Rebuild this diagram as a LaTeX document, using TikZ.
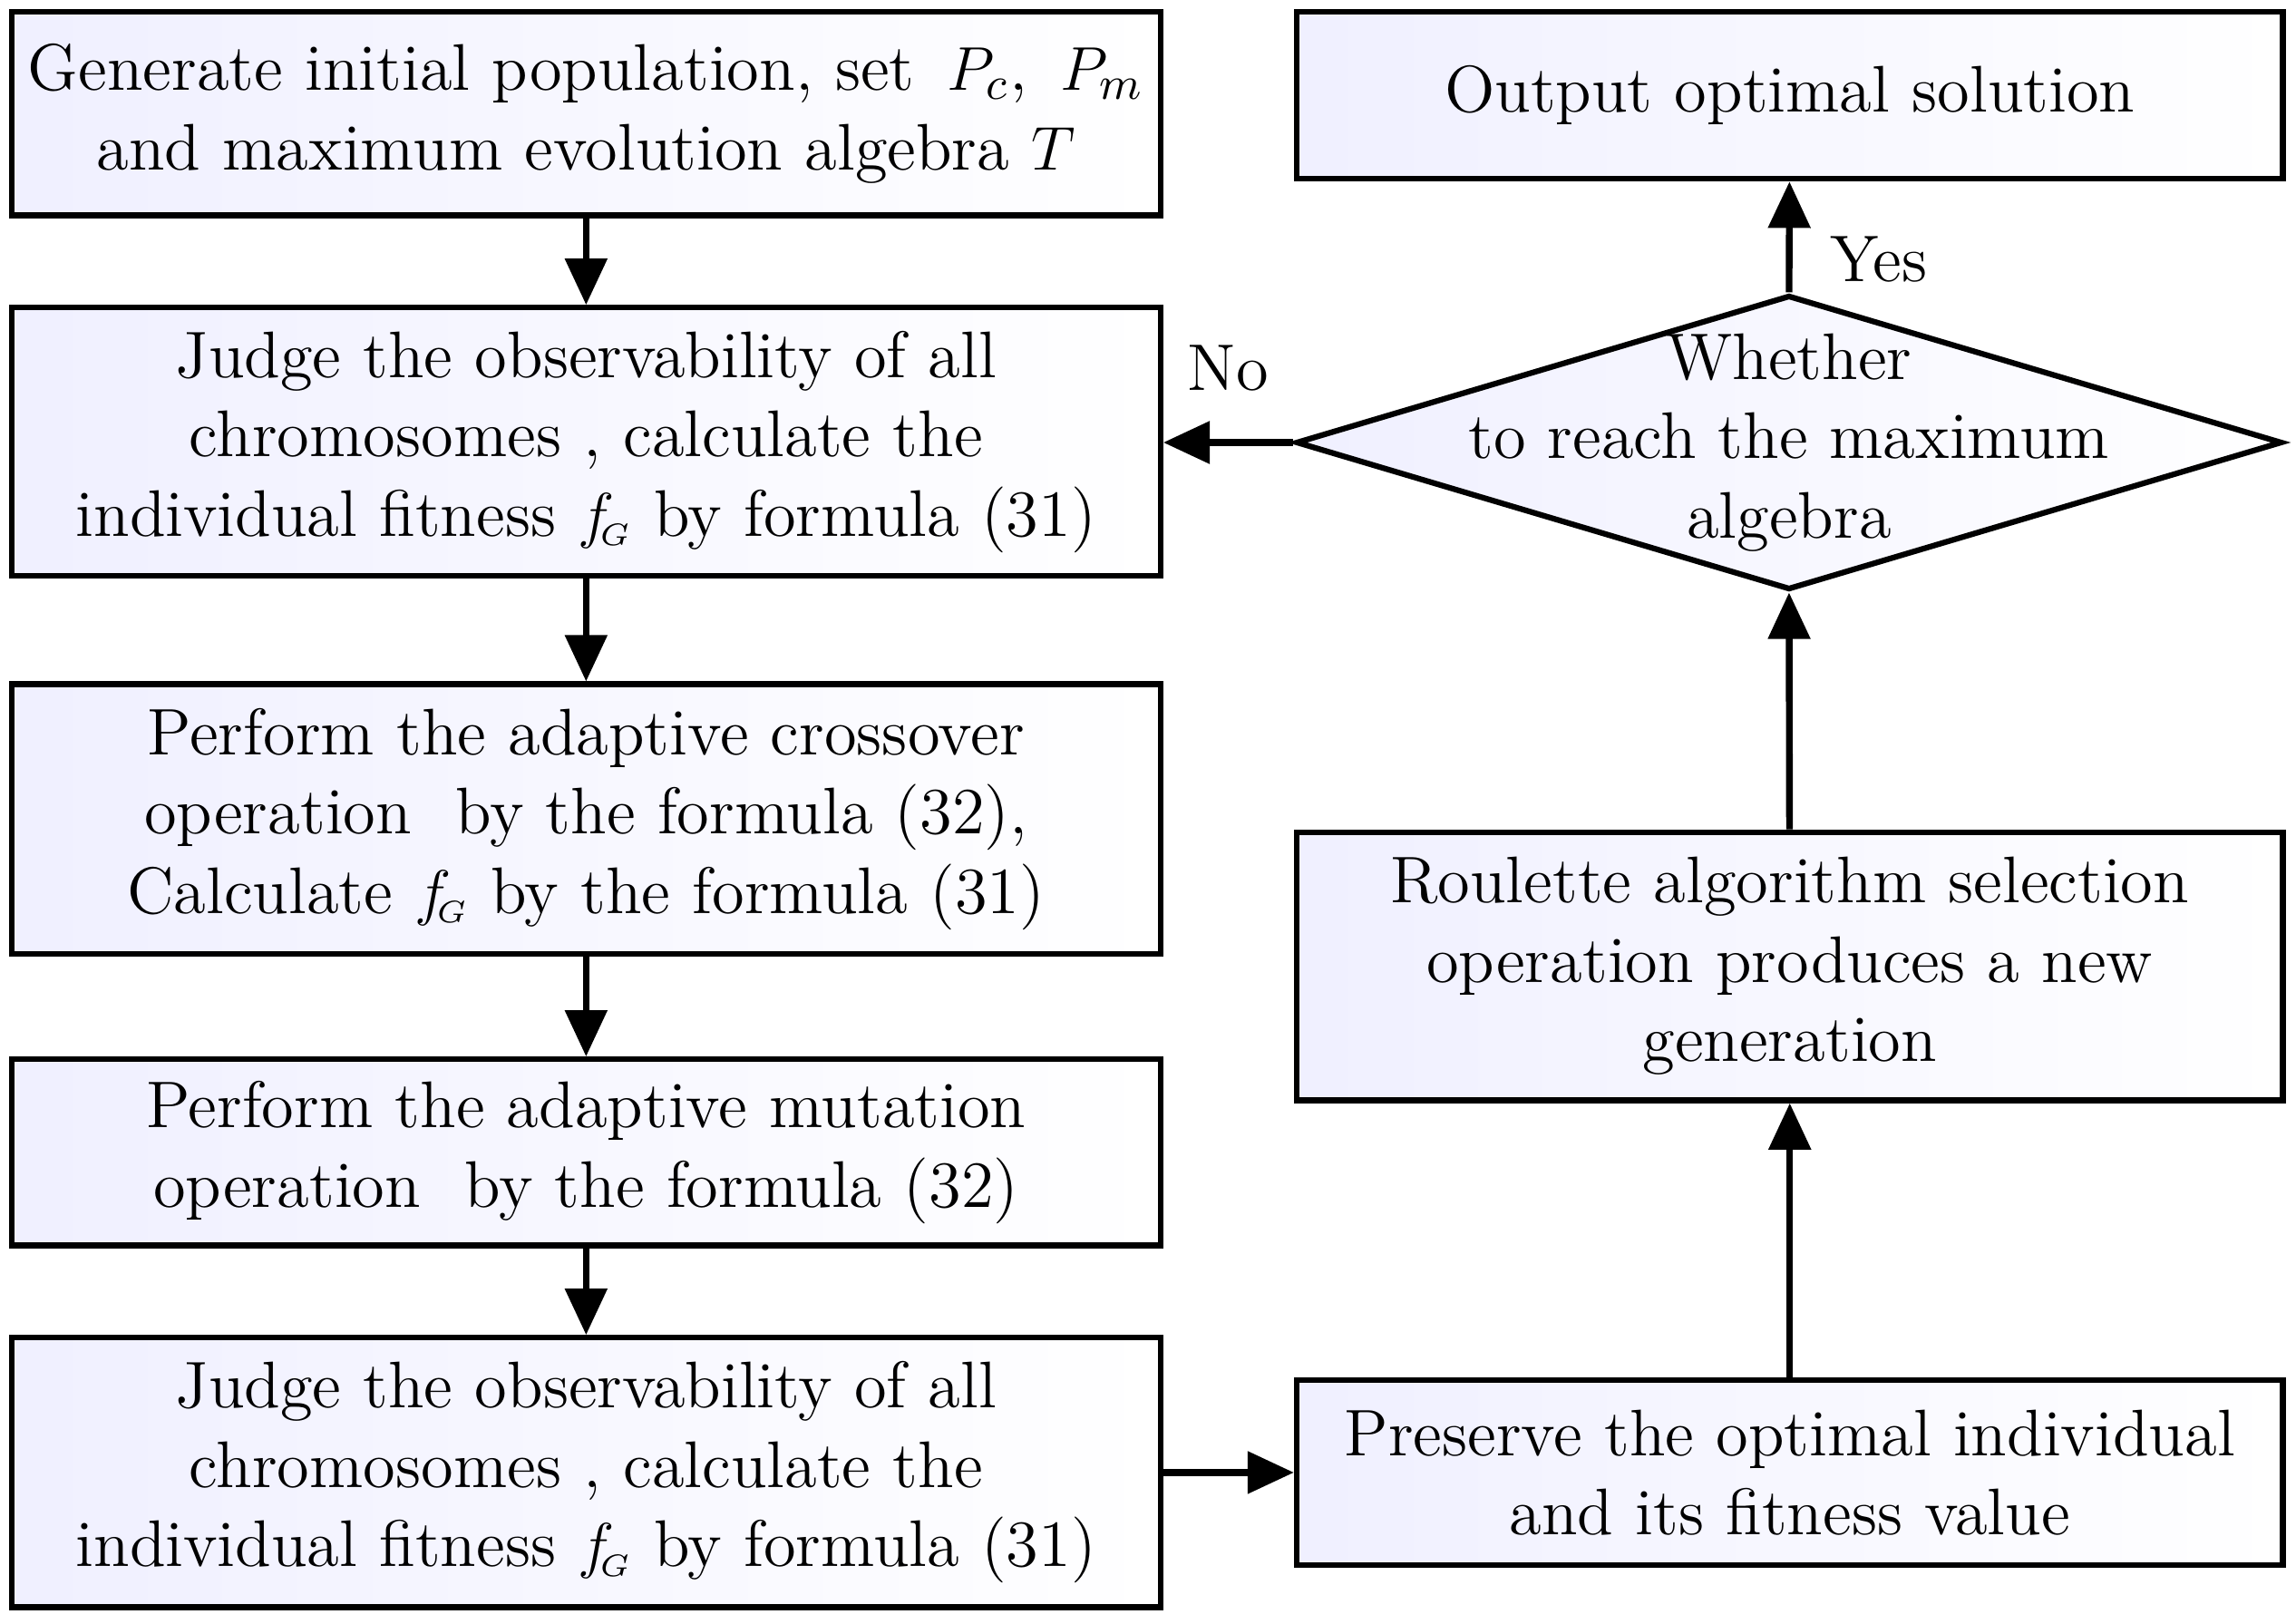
\documentclass[tikz,border=0pt]{standalone}
\usetikzlibrary{shapes.geometric,arrows.meta}
\begin{document}
\begin{tikzpicture}[x=0.01cm,y=-0.01cm,
  box/.style={draw,line width=1.1pt,left color=blue!6,right color=white,inner sep=0pt,align=center,font=\fontsize{12.8}{15.4}\selectfont},
  arr/.style={line width=1.3pt,-{Triangle[length=9pt,width=8pt]}},
  lab/.style={font=\fontsize{12.8}{15.4}\selectfont}]
\useasboundingbox (0,0) rectangle (1567,1108);
\newcommand{\bx}[6]{\node[box,text width=#4*0.01cm-#2*0.01cm,minimum width=#4*0.01cm-#2*0.01cm,minimum height=#5*0.01cm-#3*0.01cm] (#1) at ({(#2+#4)/2},{(#3+#5)/2}) {#6};}
\newcommand{\fg}{$f_{\!\scriptscriptstyle G}$}
\bx{b1}{8}{8}{792}{147}{Generate initial population, set \,$P_c$,\, $P_m$\\and maximum evolution algebra $T$}
\bx{b2}{8}{210}{792}{393}{Judge the observability of all\\chromosomes , calculate the\\individual fitness \fg\ by formula (31)}
\bx{b3}{8}{467}{792}{651}{Perform the adaptive crossover\\operation \ by the formula (32),\\Calculate \fg\ by the formula (31)}
\bx{b4}{8}{723}{792}{850}{Perform the adaptive mutation\\operation \ by the formula (32)}
\bx{b5}{8}{913}{792}{1097}{Judge the observability of all\\chromosomes , calculate the\\individual fitness \fg\ by formula (31)}
\bx{o}{885}{8}{1558}{122}{Output optimal solution}
\bx{r}{885}{568}{1558}{751}{Roulette algorithm selection\\operation produces a new\\generation}
\bx{p}{885}{942}{1558}{1068}{Preserve the optimal individual\\and its fitness value}
\node[diamond,draw,line width=1.1pt,left color=blue!6,right color=white,minimum width=673*0.01cm,minimum height=201*0.01cm,inner sep=0pt,aspect=3.35] (d) at (1221,302) {};
\node[lab,align=center] at (1221,302) {Whether\\to reach the maximum\\algebra};
\draw[arr] (b1) -- (b2);
\draw[arr] (b2) -- (b3);
\draw[arr] (b3) -- (b4);
\draw[arr] (b4) -- (b5);
\draw[arr] (b5.east|-p) -- (p);
\draw[arr] (p) -- (r);
\draw[arr] (r) -- (d.south);
\draw[arr] (d.north) -- (o) node[lab,pos=0.3,right=4pt] {Yes};
\draw[arr] (d.west) -- (b2.east|-d.west) node[lab,midway,above=6pt] {No};
\end{tikzpicture}
\end{document}
